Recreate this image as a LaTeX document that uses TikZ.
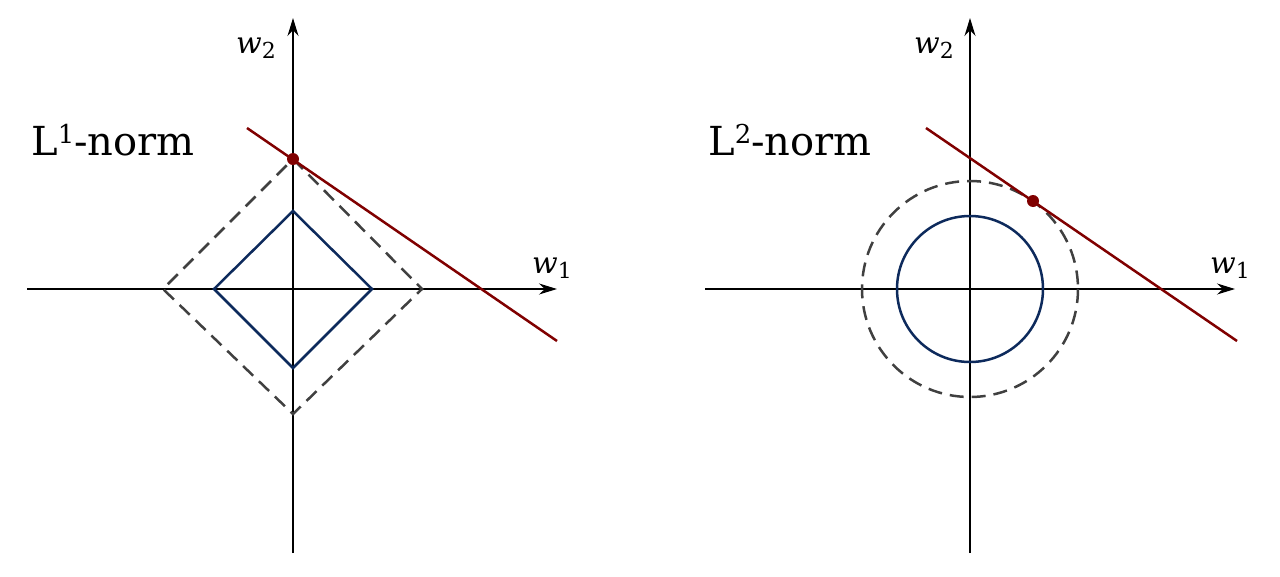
\documentclass[tikz,border=0pt]{standalone}
\usepackage{fontspec}
\setmainfont{DejaVu Serif}
\usetikzlibrary{arrows.meta}
\definecolor{navy}{HTML}{0D2A5C}
\definecolor{dred}{HTML}{800000}
\definecolor{dgray}{HTML}{404040}
\newcommand{\supnum}[1]{\raisebox{0.6ex}{\fontsize{26}{30}\selectfont #1}}
\newcommand{\wsub}[1]{\textit{w}\raisebox{-0.3ex}{\fontsize{22}{26}\selectfont #1}}
\begin{document}
\begin{tikzpicture}[x=1pt,y=-1pt,
  axis/.style={line width=1.5pt,-{Stealth[length=18pt,width=11pt]}},
  solidshape/.style={draw=navy,line width=2.5pt},
  dashshape/.style={draw=dgray,line width=2.5pt,dash pattern=on 14pt off 8pt},
  redline/.style={draw=dred,line width=2.5pt},
  dot/.style={circle,fill=dred,inner sep=0pt,minimum size=12pt},
  ttl/.style={font=\fontsize{40}{46}\selectfont},
  lab/.style={font=\fontsize{30}{36}\selectfont}]
\useasboundingbox (0,0) rectangle (1280,576);
% left
\coordinate (xl0) at (27,289); \coordinate (xl1) at (557,289);
\coordinate (yl0) at (293,553); \coordinate (yl1) at (293,18);
\draw[axis] (xl0) -- (xl1);
\draw[axis] (yl0) -- (yl1);
\draw[solidshape] (214,289) -- (293,211) -- (372,289) -- (293,368) -- cycle;
\draw[dashshape] (293,159) -- (422,289) -- (293,414) -- (163,289) -- cycle;
\coordinate (ra) at (247,128); \coordinate (rb) at (557,341);
\draw[redline] (ra) -- (rb);
\node[dot] (d1) at (293,159) {};
\node[ttl] (t1) at (113,140) {L\supnum{1}-norm};
\node[lab] (w2l) at (256,48) {\wsub{2}};
\node[lab] (w1l) at (552,268) {\wsub{1}};
% right
\coordinate (xr0) at (705,289); \coordinate (xr1) at (1235,289);
\coordinate (yr0) at (970,553); \coordinate (yr1) at (970,18);
\draw[axis] (xr0) -- (xr1);
\draw[axis] (yr0) -- (yr1);
\draw[solidshape] (970,289) circle (73);
\draw[dashshape] (970,289) circle (108);
\coordinate (rc) at (926,128); \coordinate (rd) at (1237,341);
\draw[redline] (rc) -- (rd);
\node[dot] (d2) at (1033,201) {};
\node[ttl] (t2) at (790,140) {L\supnum{2}-norm};
\node[lab] (w2r) at (934,48) {\wsub{2}};
\node[lab] (w1r) at (1230,268) {\wsub{1}};
\end{tikzpicture}
\end{document}
